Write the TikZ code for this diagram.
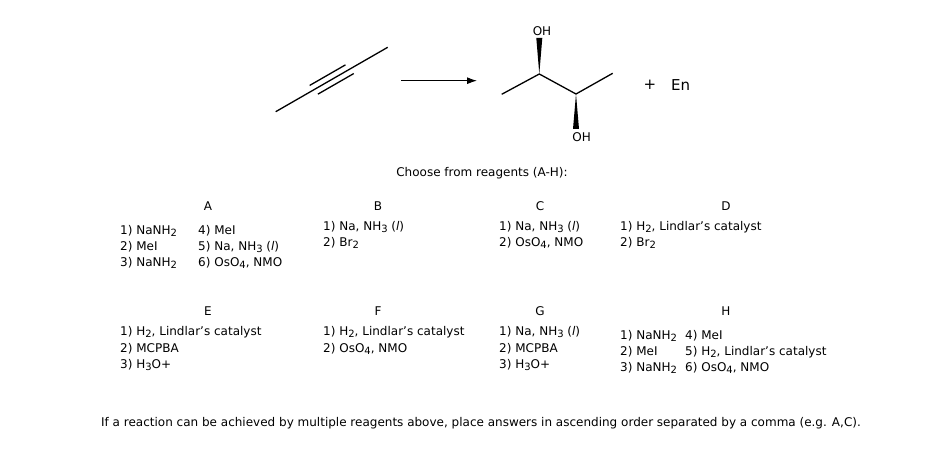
\documentclass[tikz,border=0pt]{standalone}
\usepackage{fontspec}
\usetikzlibrary{calc,arrows.meta}
\setmainfont{DejaVu Sans}
\newcommand{\sbs}[1]{\raisebox{-0.35ex}{\fontsize{10bp}{11bp}\selectfont #1}}
\begin{document}
\begin{tikzpicture}[x=1bp,y=-1bp,
  bond/.style={line width=1.3bp},
  t/.style={inner sep=0pt,anchor=west,font=\fontsize{12bp}{14bp}\selectfont},
  tc/.style={inner sep=0pt,font=\fontsize{12bp}{14bp}\selectfont}]
\useasboundingbox (0,0) rectangle (927,455);
% alkyne
\coordinate (a1) at (275.7,111.7);
\coordinate (a2) at (387.7,47.3);
\draw[bond] (a1) -- (a2);
\draw[bond] ($(a1)!0.33!(a2)+(-3,-5)$) -- ($(a1)!0.65!(a2)+(-3,-5)$);
\draw[bond] ($(a1)!0.35!(a2)+(3,5)$) -- ($(a1)!0.67!(a2)+(3,5)$);
% arrow
\coordinate (r1) at (401,80.7);
\coordinate (r2) at (477,80.7);
\draw[line width=1bp,-{Latex[length=10bp,width=7bp]}] (r1) -- (r2);
% diol
\coordinate (d1) at (501.7,94.3);
\coordinate (d2) at (539.3,74);
\coordinate (d3) at (576,94);
\coordinate (d4) at (612.7,73.3);
\draw[bond] (d1) -- (d2) -- (d3) -- (d4);
\node[tc] (oh1) at (542,30.7) {OH};
\node[tc] (oh2) at (581.7,137) {OH};
\fill (d2) -- (536.3,38) -- (542.3,38) -- cycle;
\fill (d3) -- (573,129) -- (579,129) -- cycle;
\node[tc,font=\fontsize{15bp}{17bp}\selectfont] (plus) at (650,85) {+};
\node[tc,font=\fontsize{15bp}{17bp}\selectfont] (en) at (680.7,85) {En};
\node[tc] (choose) at (482,173) {Choose from reagents (A-H):};
% letters
\node[tc] (A) at (208,206) {A};
\node[tc] (B) at (378,206) {B};
\node[tc] (C) at (540,206) {C};
\node[tc] (D) at (726,206) {D};
\node[tc] (E) at (208,311) {E};
\node[tc] (F) at (378,311) {F};
\node[tc] (G) at (540,311) {G};
\node[tc] (H) at (726,311) {H};
% A
\node[t] (a11) at (120,231) {1) NaNH\sbs{2}};
\node[t] (a12) at (120,247) {2) MeI};
\node[t] (a13) at (120,263) {3) NaNH\sbs{2}};
\node[t] (a14) at (198,231) {4) MeI};
\node[t] (a15) at (198,247) {5) Na, NH\sbs{3} (\textit{l})};
\node[t] (a16) at (198,263) {6) OsO\sbs{4}, NMO};
% B
\node[t] (b1) at (323,227) {1) Na, NH\sbs{3} (\textit{l})};
\node[t] (b2) at (323,243) {2) Br\sbs{2}};
% C
\node[t] (c1) at (499,227) {1) Na, NH\sbs{3} (\textit{l})};
\node[t] (c2) at (499,243) {2) OsO\sbs{4}, NMO};
% D
\node[t] (dd1) at (620,227) {1) H\sbs{2}, Lindlar's catalyst};
\node[t] (dd2) at (620,243) {2) Br\sbs{2}};
% E
\node[t] (e1) at (120,332) {1) H\sbs{2}, Lindlar's catalyst};
\node[t] (e2) at (120,349) {2) MCPBA};
\node[t] (e3) at (120,365) {3) H\sbs{3}O+};
% F
\node[t] (f1) at (323,332) {1) H\sbs{2}, Lindlar's catalyst};
\node[t] (f2) at (323,349) {2) OsO\sbs{4}, NMO};
% G
\node[t] (g1) at (499,332) {1) Na, NH\sbs{3} (\textit{l})};
\node[t] (g2) at (499,349) {2) MCPBA};
\node[t] (g3) at (499,365) {3) H\sbs{3}O+};
% H
\node[t] (h1) at (620,336) {1) NaNH\sbs{2}};
\node[t] (h2) at (620,352) {2) MeI};
\node[t] (h3) at (620,368) {3) NaNH\sbs{2}};
\node[t] (h4) at (685,336) {4) MeI};
\node[t] (h5) at (685,352) {5) H\sbs{2}, Lindlar's catalyst};
\node[t] (h6) at (685,368) {6) OsO\sbs{4}, NMO};
\node[tc] (foot) at (481,423) {If a reaction can be achieved by multiple reagents above, place answers in ascending order separated by a comma (e.g. A,C).};
\end{tikzpicture}
\end{document}
